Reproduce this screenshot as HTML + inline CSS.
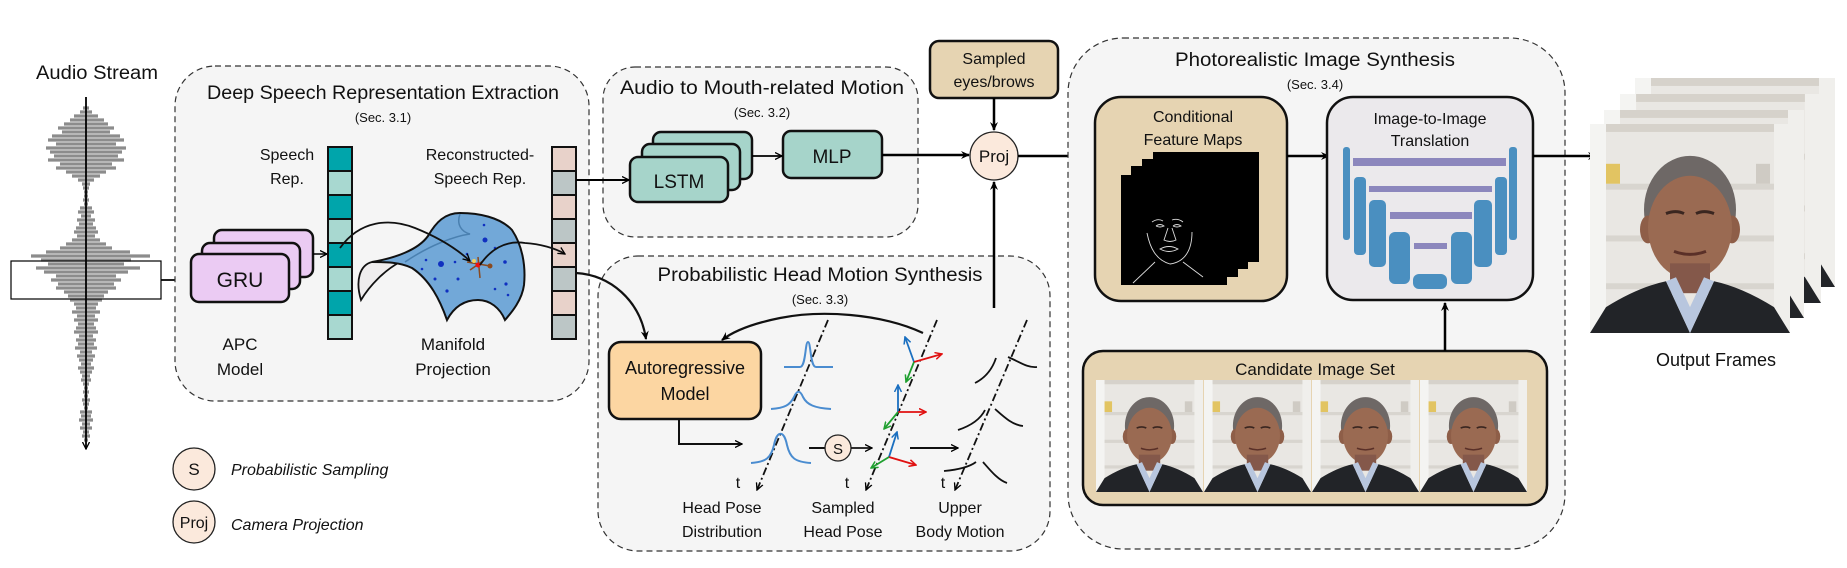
<!DOCTYPE html>
<html><head><meta charset="utf-8"><style>
html,body{margin:0;padding:0;background:#fff;}
svg{display:block;}
text{font-family:"Liberation Sans",sans-serif;fill:#111;}
</style></head><body>
<svg width="1847" height="568" viewBox="0 0 1847 568" xmlns="http://www.w3.org/2000/svg">
<defs>
<marker id="ah" markerWidth="10" markerHeight="10" refX="8" refY="5" orient="auto" markerUnits="userSpaceOnUse"><path d="M0,1 L9,5 L0,9 L3,5 Z" fill="#000"/></marker>
<marker id="ahs" markerWidth="8" markerHeight="8" refX="7" refY="4" orient="auto" markerUnits="userSpaceOnUse"><path d="M0,0.5 L7,4 L0,7.5" fill="none" stroke="#000" stroke-width="1.3"/></marker>
<marker id="ahr" markerWidth="8" markerHeight="8" refX="7" refY="4" orient="auto" markerUnits="userSpaceOnUse"><path d="M0,0.5 L7,4 L0,7.5" fill="none" stroke="#e01010" stroke-width="1.5"/></marker>
<marker id="ahb" markerWidth="8" markerHeight="8" refX="7" refY="4" orient="auto" markerUnits="userSpaceOnUse"><path d="M0,0.5 L7,4 L0,7.5" fill="none" stroke="#1a6fc0" stroke-width="1.5"/></marker>
<marker id="ahg" markerWidth="8" markerHeight="8" refX="7" refY="4" orient="auto" markerUnits="userSpaceOnUse"><path d="M0,0.5 L7,4 L0,7.5" fill="none" stroke="#20a030" stroke-width="1.5"/></marker>
<symbol id="photo" viewBox="0 0 100 105" preserveAspectRatio="none">
<rect width="100" height="105" fill="#e9e7e3"/>
<rect x="0" y="0" width="8" height="105" fill="#f4f4f2"/>
<rect x="92" y="0" width="8" height="105" fill="#f0efec"/>
<rect x="8" y="0" width="84" height="4" fill="#d6d2cb"/>
<rect x="8" y="30" width="84" height="3" fill="#d8d5cf"/>
<rect x="8" y="56" width="84" height="3" fill="#d8d5cf"/>
<rect x="8" y="80" width="84" height="3" fill="#d8d5cf"/>
<rect x="8" y="20" width="7" height="10" fill="#e2c462"/>
<rect x="83" y="20" width="7" height="10" fill="#cfcbc4"/>
<ellipse cx="50" cy="43" rx="23" ry="27" fill="#6e6866"/>
<ellipse cx="29" cy="53" rx="4" ry="7" fill="#8e5e48"/>
<ellipse cx="71" cy="53" rx="4" ry="7" fill="#8e5e48"/>
<ellipse cx="50" cy="52" rx="21" ry="26" fill="#9a6a52"/>
<rect x="40" y="70" width="20" height="15" fill="#84584a"/>
<path d="M0 105 L8 92 Q24 82 38 79 L50 105 L62 79 Q76 82 92 92 L100 105 Z" fill="#222428"/>
<path d="M38 79 L50 105 L62 79 L57 77 L50 92 L43 77 Z" fill="#b8c6de"/>
<path d="M38 45 Q43 43 47 45 M53 45 Q57 43 62 45" stroke="#3a2620" stroke-width="1.5" fill="none"/>
<path d="M42 64 Q50 67 58 64" stroke="#5a3028" stroke-width="1.5" fill="none"/>
</symbol>
</defs>

<!-- Audio stream -->
<text x="36" y="79" font-size="19" textLength="122" lengthAdjust="spacingAndGlyphs">Audio Stream</text>
<path stroke="#8c8c8c" stroke-width="3.2" fill="none" d="
M83 108H89M80 112H92M74 116H98M70 120H104M64 124H108M58 128H114M62 132H110M52 136H120M48 140H124M56 144H116M46 148H126M50 152H122M54 156H118M48 160H124M60 164H112M56 168H116M66 172H106M72 176H100M78 180H94M82 184H90M83 188H89M84 192H88M84 196H88M83 200H89M84 204H88M80 208H92M78 212H94M81 216H91M77 220H95M79 224H93M76 228H96M74 232H98M77 236H95M72 240H100M66 244H106M60 248H112M46 252H130M31 256H150M41 260H131M48 264H124M36 268H140M44 272H128M56 276H116M51 280H121M58 284H114M56 288H116M64 292H108M68 296H104M70 300H102M74 304H98M76 308H96M72 312H100M77 316H95M74 320H98M78 324H94M76 328H96M74 332H98M79 336H93M76 340H96M78 344H94M75 348H97M80 352H92M77 356H95M79 360H93M81 364H91M78 368H94M80 372H92M82 376H90M81 380H91M83 384H89M84 388H88M83 392H89M84 396H88M82 400H90M83 404H89M84 408H88M80 412H92M81 416H91M79 420H93M82 424H90M80 428H92M83 432H89M82 436H90M84 440H88"/>
<line x1="86" y1="97" x2="86" y2="449" stroke="#000" stroke-width="1.8" marker-end="url(#ahs)"/>
<rect x="11" y="261" width="150" height="38" fill="none" stroke="#000" stroke-width="1.2"/>
<line x1="161" y1="280" x2="189" y2="280" stroke="#000" stroke-width="1.8" marker-end="url(#ahs)"/>

<!-- Deep Speech box -->
<rect x="175" y="66" width="414" height="335" rx="40" fill="#f5f5f5" stroke="#333" stroke-width="1.2" stroke-dasharray="6 4"/>
<text x="383" y="99" font-size="19" text-anchor="middle" textLength="352" lengthAdjust="spacingAndGlyphs">Deep Speech Representation Extraction</text>
<text x="383" y="122" font-size="13" text-anchor="middle">(Sec. 3.1)</text>
<text x="287" y="160" font-size="16" text-anchor="middle">Speech</text>
<text x="287" y="184" font-size="16" text-anchor="middle">Rep.</text>
<text x="480" y="160" font-size="16" text-anchor="middle">Reconstructed-</text>
<text x="480" y="184" font-size="16" text-anchor="middle">Speech Rep.</text>
<g stroke="#111" stroke-width="2.5" fill="#ebcbf3">
<rect x="214" y="230" width="99" height="47" rx="8"/>
<rect x="202" y="243" width="98" height="46" rx="8"/>
<rect x="191" y="254" width="98" height="48" rx="8"/>
</g>
<text x="240" y="287" font-size="21" text-anchor="middle">GRU</text>
<line x1="313" y1="254" x2="327" y2="254" stroke="#000" stroke-width="1.5" marker-end="url(#ahs)"/>
<g stroke="#111" stroke-width="2">
<rect x="328" y="147" width="24" height="24" fill="#00a5ab"/>
<rect x="328" y="171" width="24" height="24" fill="#a8d8d0"/>
<rect x="328" y="195" width="24" height="24" fill="#00a5ab"/>
<rect x="328" y="219" width="24" height="24" fill="#a8d8d0"/>
<rect x="328" y="243" width="24" height="24" fill="#00a5ab"/>
<rect x="328" y="267" width="24" height="24" fill="#a8d8d0"/>
<rect x="328" y="291" width="24" height="24" fill="#00a5ab"/>
<rect x="328" y="315" width="24" height="24" fill="#a8d8d0"/>
<rect x="552" y="147" width="24" height="24" fill="#e8d2ca"/>
<rect x="552" y="171" width="24" height="24" fill="#bcc6c6"/>
<rect x="552" y="195" width="24" height="24" fill="#e8d2ca"/>
<rect x="552" y="219" width="24" height="24" fill="#bcc6c6"/>
<rect x="552" y="243" width="24" height="24" fill="#e8d2ca"/>
<rect x="552" y="267" width="24" height="24" fill="#bcc6c6"/>
<rect x="552" y="291" width="24" height="24" fill="#e8d2ca"/>
<rect x="552" y="315" width="24" height="24" fill="#bcc6c6"/>
</g>
<!-- manifold -->
<path d="M372,262 C360,265 355,280 361,300 C370,285 385,270 400,262 Z" fill="#efedee" stroke="#111" stroke-width="1.8"/>
<path d="M372,262 C395,258 418,250 428,236 C436,222 445,213 460,213 C478,213 500,217 512,230 C522,245 526,265 524,285 C522,300 512,312 505,320 C500,308 490,300 478,300 C466,300 455,305 447,320 C440,300 430,280 412,268 C400,262 385,262 372,262 Z" fill="#72a8d8" stroke="#111" stroke-width="2"/>
<path d="M460,214 C456,225 462,232 470,234 C455,236 430,245 405,262" fill="none" stroke="#4a80b0" stroke-width="1.5"/>
<g fill="#1030c0">
<circle cx="485" cy="240" r="2.5"/><circle cx="441" cy="264" r="3"/><circle cx="484" cy="225" r="1.3"/><circle cx="467" cy="254" r="1.3"/><circle cx="455" cy="262" r="1.3"/><circle cx="426" cy="260" r="1.3"/><circle cx="435" cy="279" r="1.5"/><circle cx="458" cy="279" r="1.5"/><circle cx="447" cy="291" r="1.6"/><circle cx="495" cy="289" r="1.3"/><circle cx="506" cy="284" r="1.6"/><circle cx="505" cy="262" r="1.8"/><circle cx="495" cy="248" r="1.3"/><circle cx="422" cy="269" r="1.3"/><circle cx="508" cy="295" r="1.3"/>
</g>
<g stroke="#8a4a20" stroke-width="1.5"><line x1="467" y1="262" x2="490" y2="266"/><line x1="478" y1="257" x2="480" y2="278"/><line x1="470" y1="270" x2="483" y2="261"/></g>
<circle cx="490" cy="266" r="2.5" fill="#8a4a20"/><circle cx="474" cy="261" r="2" fill="#f0d060"/><circle cx="478" cy="265" r="2.5" fill="#f01010"/>
<path d="M340,248 C360,220 390,218 415,228 C440,238 458,250 470,261" fill="none" stroke="#111" stroke-width="1.8" marker-end="url(#ahs)"/>
<path d="M480,265 C490,250 505,240 525,243 C540,244 555,248 565,254" fill="none" stroke="#111" stroke-width="1.8" marker-end="url(#ahs)"/>
<text x="240" y="350" font-size="17" text-anchor="middle">APC</text>
<text x="240" y="375" font-size="17" text-anchor="middle">Model</text>
<text x="453" y="350" font-size="17" text-anchor="middle">Manifold</text>
<text x="453" y="375" font-size="17" text-anchor="middle">Projection</text>

<!-- legend -->
<circle cx="194" cy="469" r="21" fill="#fbe9dc" stroke="#222" stroke-width="1.3"/>
<text x="194" y="475" font-size="17" text-anchor="middle">S</text>
<text x="231" y="475" font-size="16" font-style="italic">Probabilistic Sampling</text>
<circle cx="194" cy="522" r="21" fill="#fbe9dc" stroke="#222" stroke-width="1.3"/>
<text x="194" y="528" font-size="16" text-anchor="middle">Proj</text>
<text x="231" y="530" font-size="16" font-style="italic">Camera Projection</text>

<!-- Audio to mouth -->
<rect x="603" y="67" width="315" height="170" rx="32" fill="#f5f5f5" stroke="#333" stroke-width="1.2" stroke-dasharray="6 4"/>
<text x="762" y="94" font-size="19" text-anchor="middle" textLength="284" lengthAdjust="spacingAndGlyphs">Audio to Mouth-related Motion</text>
<text x="762" y="117" font-size="13" text-anchor="middle">(Sec. 3.2)</text>
<g stroke="#111" stroke-width="2.5" fill="#a6d4ca">
<rect x="653" y="132" width="99" height="47" rx="8"/>
<rect x="642" y="144" width="98" height="46" rx="8"/>
<rect x="630" y="157" width="98" height="45" rx="8"/>
<rect x="783" y="131" width="99" height="47" rx="8"/>
</g>
<text x="679" y="188" font-size="19" text-anchor="middle">LSTM</text>
<text x="832" y="163" font-size="19" text-anchor="middle">MLP</text>
<line x1="576" y1="180" x2="629" y2="180" stroke="#000" stroke-width="2" marker-end="url(#ahs)"/>
<line x1="752" y1="156" x2="782" y2="156" stroke="#000" stroke-width="1.8" marker-end="url(#ahs)"/>
<line x1="882" y1="155" x2="969" y2="155" stroke="#000" stroke-width="2.5" marker-end="url(#ah)"/>

<!-- Sampled eyes & proj -->
<rect x="930" y="41" width="128" height="57" rx="9" fill="#e6d4b2" stroke="#111" stroke-width="2.5"/>
<text x="994" y="64" font-size="16" text-anchor="middle">Sampled</text>
<text x="994" y="87" font-size="16" text-anchor="middle">eyes/brows</text>
<line x1="994" y1="98" x2="994" y2="130" stroke="#000" stroke-width="2.5" marker-end="url(#ah)"/>

<!-- Head motion box -->
<rect x="598" y="256" width="452" height="295" rx="40" fill="#f5f5f5" stroke="#333" stroke-width="1.2" stroke-dasharray="6 4"/>
<text x="820" y="281" font-size="19" text-anchor="middle" textLength="325" lengthAdjust="spacingAndGlyphs">Probabilistic Head Motion Synthesis</text>
<text x="820" y="304" font-size="13" text-anchor="middle">(Sec. 3.3)</text>
<line x1="994" y1="308" x2="994" y2="182" stroke="#000" stroke-width="2.5" marker-end="url(#ah)"/>
<circle cx="994" cy="156" r="24" fill="#fbe9dc" stroke="#222" stroke-width="1.3"/>
<text x="994" y="162" font-size="17" text-anchor="middle">Proj</text>
<line x1="1018" y1="156" x2="1094" y2="156" stroke="#000" stroke-width="2.5" marker-end="url(#ah)"/>

<path d="M576,273 C610,275 640,300 646,339" fill="none" stroke="#111" stroke-width="2.2" marker-end="url(#ah)"/>
<rect x="609" y="342" width="152" height="77" rx="12" fill="#fcd6a2" stroke="#111" stroke-width="2.5"/>
<text x="685" y="374" font-size="18" text-anchor="middle">Autoregressive</text>
<text x="685" y="400" font-size="18" text-anchor="middle">Model</text>
<path d="M923,333 C880,313 820,310 780,318 C755,323 735,330 722,340" fill="none" stroke="#111" stroke-width="2.2" marker-end="url(#ah)"/>
<polyline points="679,419 679,444 742,444" fill="none" stroke="#111" stroke-width="2" marker-end="url(#ahs)"/>

<g stroke="#111" stroke-width="1.8" fill="none" stroke-dasharray="8 3 2 3">
<line x1="828" y1="320" x2="757" y2="490" marker-end="url(#ahs)"/>
<line x1="937" y1="320" x2="866" y2="490" marker-end="url(#ahs)"/>
<line x1="1027" y1="320" x2="955" y2="490" marker-end="url(#ahs)"/>
</g>
<g stroke="#4a8cd0" stroke-width="2" fill="none">
<path d="M784,367 L800,367 C806,367 805,342 808,342 C811,342 810,367 816,367 L833,367"/>
<path d="M771,409 C785,408 790,405 794,397 C797,390 800,390 803,397 C807,405 815,408 831,409"/>
<path d="M751,463 C766,462 771,458 774,445 C777,430 784,430 787,445 C790,458 795,462 811,463"/>
</g>
<line x1="809" y1="448" x2="825" y2="448" stroke="#111" stroke-width="2"/>
<circle cx="838" cy="448" r="13" fill="#fbe9dc" stroke="#222" stroke-width="1.3"/>
<text x="838" y="454" font-size="15" text-anchor="middle">S</text>
<line x1="851" y1="448" x2="872" y2="448" stroke="#111" stroke-width="1.8" marker-end="url(#ahs)"/>
<line x1="910" y1="448" x2="958" y2="448" stroke="#111" stroke-width="2" marker-end="url(#ahs)"/>
<!-- frames -->
<g stroke-width="1.8" fill="none">
<line x1="914" y1="362" x2="905" y2="337" stroke="#1a6fc0" marker-end="url(#ahb)"/>
<line x1="914" y1="362" x2="942" y2="354" stroke="#e01010" marker-end="url(#ahr)"/>
<line x1="914" y1="362" x2="906" y2="382" stroke="#20a030" marker-end="url(#ahg)"/>
<line x1="898" y1="412" x2="898" y2="385" stroke="#1a6fc0" marker-end="url(#ahb)"/>
<line x1="898" y1="412" x2="926" y2="412" stroke="#e01010" marker-end="url(#ahr)"/>
<line x1="898" y1="412" x2="884" y2="429" stroke="#20a030" marker-end="url(#ahg)"/>
<line x1="889" y1="457" x2="897" y2="432" stroke="#1a6fc0" marker-end="url(#ahb)"/>
<line x1="889" y1="457" x2="916" y2="465" stroke="#e01010" marker-end="url(#ahr)"/>
<line x1="889" y1="457" x2="871" y2="468" stroke="#20a030" marker-end="url(#ahg)"/>
</g>
<g stroke="#111" stroke-width="1.8" fill="none">
<path d="M975,383 C985,378 992,370 996,358"/>
<path d="M1008,357 C1020,362 1027,368 1037,367"/>
<path d="M958,430 C970,426 980,420 985,410"/>
<path d="M995,409 C1003,416 1012,425 1023,426"/>
<path d="M944,471 C955,470 968,468 976,462"/>
<path d="M983,462 C990,470 998,480 1007,483"/>
</g>
<text x="738" y="488" font-size="16" text-anchor="middle">t</text>
<text x="847" y="488" font-size="16" text-anchor="middle">t</text>
<text x="943" y="488" font-size="16" text-anchor="middle">t</text>
<text x="722" y="513" font-size="16" text-anchor="middle">Head Pose</text>
<text x="722" y="537" font-size="16" text-anchor="middle">Distribution</text>
<text x="843" y="513" font-size="16" text-anchor="middle">Sampled</text>
<text x="843" y="537" font-size="16" text-anchor="middle">Head Pose</text>
<text x="960" y="513" font-size="16" text-anchor="middle">Upper</text>
<text x="960" y="537" font-size="16" text-anchor="middle">Body Motion</text>

<!-- Photorealistic -->
<rect x="1068" y="38" width="497" height="511" rx="55" fill="#f5f5f5" stroke="#333" stroke-width="1.2" stroke-dasharray="6 4"/>
<text x="1315" y="66" font-size="19" text-anchor="middle" textLength="280" lengthAdjust="spacingAndGlyphs">Photorealistic Image Synthesis</text>
<text x="1315" y="89" font-size="13" text-anchor="middle">(Sec. 3.4)</text>
<rect x="1095" y="97" width="192" height="204" rx="26" fill="#e6d4b2" stroke="#111" stroke-width="2.5"/>
<text x="1193" y="122" font-size="16" text-anchor="middle">Conditional</text>
<text x="1193" y="145" font-size="16" text-anchor="middle">Feature Maps</text>
<g fill="#000">
<rect x="1153" y="152" width="106" height="110"/>
<rect x="1142" y="159" width="106" height="110"/>
<rect x="1131" y="166" width="107" height="111"/>
<rect x="1121" y="175" width="106" height="110"/>
</g>
<g stroke="#ddd" stroke-width="0.9" fill="none">
<path d="M1147,233 C1150,248 1156,260 1170,264 C1185,262 1192,250 1192,232"/>
<path d="M1152,222 Q1158,218 1163,221 M1172,220 Q1178,218 1183,222"/>
<path d="M1156,226 Q1160,223 1164,226 Q1160,228 1156,226 M1173,226 Q1177,223 1181,226 Q1177,228 1173,226"/>
<path d="M1168,228 L1164,240 Q1170,243 1176,240 L1172,228"/>
<path d="M1160,249 Q1169,244 1178,249 Q1169,254 1160,249 Z"/>
<path d="M1155,262 L1133,283 M1183,262 L1203,277"/>
</g>
<line x1="1287" y1="156" x2="1329" y2="156" stroke="#000" stroke-width="2.5" marker-end="url(#ah)"/>
<rect x="1327" y="97" width="206" height="203" rx="26" fill="#ebe9ec" stroke="#111" stroke-width="2.5"/>
<text x="1430" y="124" font-size="16" text-anchor="middle">Image-to-Image</text>
<text x="1430" y="146" font-size="16" text-anchor="middle">Translation</text>
<g fill="#4a8fc0">
<rect x="1343" y="147" width="7" height="93" rx="3"/>
<rect x="1354" y="177" width="12" height="78" rx="4"/>
<rect x="1369" y="200" width="17" height="67" rx="5"/>
<rect x="1389" y="232" width="21" height="52" rx="6"/>
<rect x="1413" y="274" width="34" height="15" rx="6"/>
<rect x="1451" y="232" width="21" height="52" rx="6"/>
<rect x="1474" y="200" width="18" height="67" rx="5"/>
<rect x="1495" y="177" width="12" height="78" rx="4"/>
<rect x="1509" y="147" width="8" height="93" rx="3"/>
</g>
<g fill="#8c87bd">
<rect x="1353" y="158" width="153" height="8"/>
<rect x="1369" y="186" width="123" height="6"/>
<rect x="1390" y="212" width="82" height="7"/>
<rect x="1414" y="243" width="33" height="6"/>
</g>
<line x1="1533" y1="156" x2="1596" y2="156" stroke="#000" stroke-width="2.5" marker-end="url(#ah)"/>
<rect x="1083" y="351" width="464" height="154" rx="20" fill="#e6d4b2" stroke="#111" stroke-width="2.5"/>
<text x="1315" y="375" font-size="17" text-anchor="middle">Candidate Image Set</text>
<use href="#photo" x="1096" y="380" width="107" height="112"/>
<use href="#photo" x="1204" y="380" width="107" height="112"/>
<use href="#photo" x="1312" y="380" width="107" height="112"/>
<use href="#photo" x="1420" y="380" width="107" height="112"/>
<line x1="1445" y1="351" x2="1445" y2="303" stroke="#000" stroke-width="2.5" marker-end="url(#ah)"/>

<!-- Output frames -->
<use href="#photo" x="1635" y="78" width="200" height="209"/>
<use href="#photo" x="1620" y="94" width="201" height="209"/>
<use href="#photo" x="1604" y="110" width="200" height="208"/>
<use href="#photo" x="1590" y="124" width="200" height="209"/>
<text x="1716" y="366" font-size="18" text-anchor="middle">Output Frames</text>
</svg>
</body></html>
